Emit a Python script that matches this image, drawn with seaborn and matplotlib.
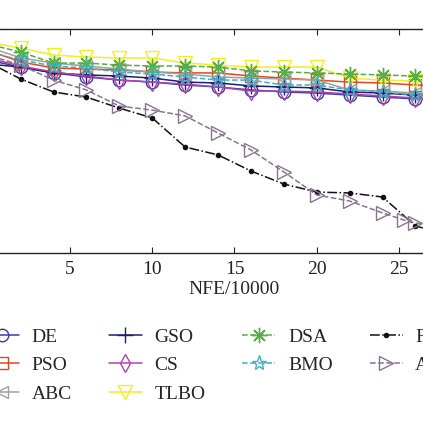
import matplotlib
matplotlib.use("Agg")
import matplotlib.pyplot as plt
import seaborn as sns

# NFE/10000 sample points (markers every 2 units)
nfe = [0, 2, 4, 6, 8, 10, 12, 14, 16, 18, 20, 22, 24, 26, 28]
nfe_alo = [0, 2, 4, 6, 8, 10, 12, 14, 16, 18, 20, 22, 24, 25.3, 26, 28]

# convergence values (axis range 0..10, y axis is cropped away in the source)
de = [8.62, 8.30, 8.04, 7.86, 7.72, 7.63, 7.50, 7.41, 7.28, 7.19, 7.14, 7.05, 6.96, 6.88, 6.83]
pso = [9.06, 8.53, 8.26, 8.21, 8.17, 8.08, 8.04, 8.04, 7.90, 7.81, 7.72, 7.63, 7.59, 7.50, 7.46]
abc = [9.20, 8.71, 8.48, 8.35, 8.21, 8.08, 7.99, 7.86, 7.81, 7.77, 7.72, 7.28, 7.23, 7.14, 7.10]
gso = [8.44, 8.30, 8.04, 7.95, 7.90, 7.81, 7.63, 7.59, 7.46, 7.41, 7.37, 7.19, 7.14, 7.05, 7.01]
cs = [8.71, 8.35, 8.08, 7.90, 7.72, 7.63, 7.54, 7.41, 7.23, 7.23, 7.19, 7.10, 7.01, 6.92, 6.88]
tlbo = [9.42, 9.15, 8.84, 8.75, 8.71, 8.71, 8.48, 8.39, 8.30, 8.30, 8.30, 7.81, 7.72, 7.68, 7.68]
dsa = [9.33, 8.97, 8.48, 8.48, 8.39, 8.35, 8.35, 8.30, 8.13, 8.08, 8.04, 7.99, 7.95, 7.90, 7.86]
bmo = [8.97, 8.62, 8.35, 8.26, 8.08, 7.99, 7.86, 7.72, 7.72, 7.50, 7.50, 7.28, 7.19, 7.05, 7.01]
fpa = [8.53, 7.77, 7.19, 6.96, 6.47, 6.03, 4.73, 4.38, 3.66, 3.08, 2.72, 2.68, 2.50, 1.21, 0.80]
alo = [8.84, 8.39, 7.72, 7.28, 6.56, 6.38, 6.12, 5.36, 4.60, 3.62, 2.59, 2.32, 1.79, 1.47, 1.34, 1.12]

sns.set_style("ticks")
plt.rcParams["font.family"] = ["Liberation Serif", "DejaVu Serif"]

fig = plt.figure(figsize=(4.23, 4.23), dpi=100)
# axes deliberately larger than the figure: the source image is a crop
ax = fig.add_axes([-0.029, 0.4019, 1.1667, 0.5295])

series = [
    ("DE", nfe, de, "#3b3b9e", "-", "o", 9),
    ("PSO", nfe, pso, "#e2481f", "-", "s", 8),
    ("ABC", nfe, abc, "#a0a0a0", "-", "<", 9),
    ("GSO", nfe, gso, "#1c1f78", "-", "+", 11),
    ("CS", nfe, cs, "#b042b0", "-", "d", 9),
    ("TLBO", nfe, tlbo, "#f2ee22", "-", "v", 10),
    ("DSA", nfe, dsa, "#55b043", "--", (8, 2, 0), 11),
    ("BMO", nfe, bmo, "#3fb2c2", "--", "*", 11),
    ("FPA", nfe, fpa, "#111111", "-.", ".", 6),
    ("ALO", nfe_alo, alo, "#8a7393", "--", ">", 10),
]

for name, xs, ys, col, ls, mk, ms in series:
    filled = mk == "."
    sns.lineplot(x=xs, y=ys, ax=ax, color=col, linestyle=ls, linewidth=1.1,
                 marker=mk, markersize=ms,
                 markerfacecolor=col if filled else "none",
                 markeredgecolor=col, markeredgewidth=1.0,
                 label=name, legend=False)

ax.set_xlim(0, 30)
ax.set_ylim(0, 10)
ax.set_xticks([5, 10, 15, 20, 25])
ax.set_yticks([])
ax.tick_params(direction="in", top=True, right=True, length=4, width=0.8,
               labelsize=14, pad=6, colors="#222222")
for sp in ax.spines.values():
    sp.set_linewidth(1.0)
    sp.set_color("#222222")
ax.set_xlabel("NFE/10000", fontsize=14, labelpad=2)

handles, labels = ax.get_legend_handles_labels()
fig.legend(handles, labels, loc="upper left", bbox_to_anchor=(-0.052, 0.243),
           ncol=4, frameon=False, fontsize=14, handlelength=1.7,
           handletextpad=0.65, columnspacing=1.9, labelspacing=0.57,
           borderaxespad=0)

fig.savefig("out.png", dpi=100)
